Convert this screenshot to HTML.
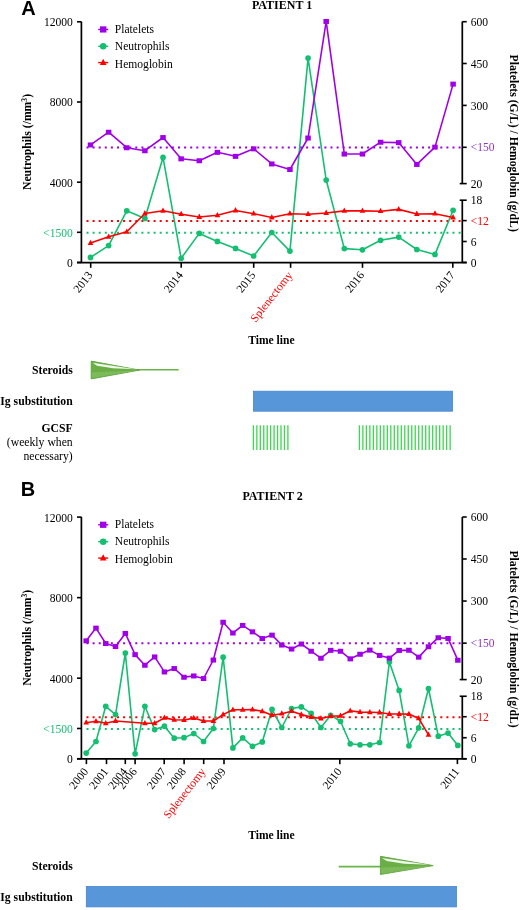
<!DOCTYPE html>
<html><head><meta charset="utf-8"><title>Patient timelines</title><style>html,body{margin:0;padding:0;background:#fff;}svg{display:block;}</style></head><body>
<svg width="520" height="910" viewBox="0 0 520 910" font-family="Liberation Serif, Times New Roman, serif">
<defs><linearGradient id="tg" x1="0" y1="0" x2="0" y2="1"><stop offset="0" stop-color="#5aa83a"/><stop offset="0.12" stop-color="#e8f6df"/><stop offset="0.28" stop-color="#79bc55"/><stop offset="1" stop-color="#5ea93c"/></linearGradient><linearGradient id="bg" x1="0" y1="0" x2="0" y2="1"><stop offset="0" stop-color="#5b9ad7"/><stop offset="1" stop-color="#5b9ad7"/></linearGradient></defs>
<rect width="520" height="910" fill="#fff"/>
<text x="21.3" y="15.3" font-family="Liberation Sans, Arial, sans-serif" font-weight="bold" font-size="20" fill="#000">A</text>
<text transform="translate(251.9 9.3) scale(1 1.12)" font-weight="bold" font-size="12">PATIENT 1</text>
<path d="M81.4 21.6V262.6" stroke="#000" stroke-width="1.7" fill="none"/>
<path d="M77 262.6H466.7" stroke="#000" stroke-width="1.7" fill="none"/>
<path d="M462.3 21.6V183.7M462.3 200.2V262.6" stroke="#000" stroke-width="1.7" fill="none"/>
<path d="M77 21.8H81.4" stroke="#000" stroke-width="1.6"/>
<text transform="translate(72.9 26.2) scale(1 1.12)" text-anchor="end" font-size="11.6" fill="#000">12000</text>
<path d="M77 102H81.4" stroke="#000" stroke-width="1.6"/>
<text transform="translate(72.9 106.4) scale(1 1.12)" text-anchor="end" font-size="11.6" fill="#000">8000</text>
<path d="M77 182.2H81.4" stroke="#000" stroke-width="1.6"/>
<text transform="translate(72.9 186.6) scale(1 1.12)" text-anchor="end" font-size="11.6" fill="#000">4000</text>
<path d="M77 232.3H81.4" stroke="#000" stroke-width="1.6"/>
<text transform="translate(72.9 236.7) scale(1 1.12)" text-anchor="end" font-size="11.6" fill="#14bf72">&lt;1500</text>
<path d="M77 262.4H81.4" stroke="#000" stroke-width="1.6"/>
<text transform="translate(72.9 266.8) scale(1 1.12)" text-anchor="end" font-size="11.6" fill="#000">0</text>
<path d="M462.3 21.7H466.7" stroke="#000" stroke-width="1.6"/>
<text transform="translate(470.7 25.8) scale(1 1.12)" font-size="11.6" fill="#000">600</text>
<path d="M462.3 63.5H466.7" stroke="#000" stroke-width="1.6"/>
<text transform="translate(470.7 67.6) scale(1 1.12)" font-size="11.6" fill="#000">450</text>
<path d="M462.3 105.4H466.7" stroke="#000" stroke-width="1.6"/>
<text transform="translate(470.7 109.5) scale(1 1.12)" font-size="11.6" fill="#000">300</text>
<path d="M462.3 147.3H466.7" stroke="#000" stroke-width="1.6"/>
<text transform="translate(470.7 151.4) scale(1 1.12)" font-size="11.6" fill="#8e38c6">&lt;150</text>
<path d="M459.7 183.6H466.7" stroke="#000" stroke-width="1.6"/>
<text transform="translate(470.7 187.7) scale(1 1.12)" font-size="11.6" fill="#000">20</text>
<path d="M459.7 200.2H466.7" stroke="#000" stroke-width="1.6"/>
<text transform="translate(470.7 204.3) scale(1 1.12)" font-size="11.6" fill="#000">18</text>
<path d="M462.3 220.6H466.7" stroke="#000" stroke-width="1.6"/>
<text transform="translate(470.7 224.7) scale(1 1.12)" font-size="11.6" fill="#ff0000">&lt;12</text>
<path d="M462.3 241.5H466.7" stroke="#000" stroke-width="1.6"/>
<text transform="translate(470.7 245.6) scale(1 1.12)" font-size="11.6" fill="#000">6</text>
<path d="M462.3 262.4H466.7" stroke="#000" stroke-width="1.6"/>
<text transform="translate(470.7 266.5) scale(1 1.12)" font-size="11.6" fill="#000">0</text>
<path d="M90.7 262.6V267.8" stroke="#000" stroke-width="1.6"/>
<text transform="translate(93.1 275.3) rotate(-52)" text-anchor="end" font-size="11.6" fill="#000">2013</text>
<path d="M181.2 262.6V267.8" stroke="#000" stroke-width="1.6"/>
<text transform="translate(183.6 275.3) rotate(-52)" text-anchor="end" font-size="11.6" fill="#000">2014</text>
<path d="M253.7 262.6V267.8" stroke="#000" stroke-width="1.6"/>
<text transform="translate(256.1 275.3) rotate(-52)" text-anchor="end" font-size="11.6" fill="#000">2015</text>
<path d="M290.6 262.6V267.8" stroke="#000" stroke-width="1.6"/>
<text transform="translate(293 275.3) rotate(-52)" text-anchor="end" font-size="11.6" fill="#ff0000">Splenectomy</text>
<path d="M362.5 262.6V267.8" stroke="#000" stroke-width="1.6"/>
<text transform="translate(364.9 275.3) rotate(-52)" text-anchor="end" font-size="11.6" fill="#000">2016</text>
<path d="M452.8 262.6V267.8" stroke="#000" stroke-width="1.6"/>
<text transform="translate(455.2 275.3) rotate(-52)" text-anchor="end" font-size="11.6" fill="#000">2017</text>
<path d="M86.5 147.4H461" stroke="#a000e8" stroke-width="2" stroke-dasharray="2 4.1" fill="none"/>
<path d="M86.5 221.1H461" stroke="#ff0000" stroke-width="2" stroke-dasharray="2 4.1" fill="none"/>
<path d="M86.5 232.7H461" stroke="#14bf72" stroke-width="2" stroke-dasharray="2 4.1" fill="none"/>
<path d="M90.5 257.4 L108.63 245.6 L126.76 210.8 L144.89 218.4 L163.02 157.4 L181.15 258.3 L199.28 233.4 L217.41 241.4 L235.54 248.4 L253.67 256 L271.8 232.5 L289.93 251.1 L308.06 58.1 L326.19 180 L344.32 248.6 L362.45 249.8 L380.58 240.3 L398.71 237.1 L416.84 249.5 L434.97 254.4 L453.1 210.3" stroke="#14bf72" stroke-width="1.6" fill="none" stroke-linejoin="round"/>
<circle cx="90.5" cy="257.4" r="2.85" fill="#14bf72"/>
<circle cx="108.63" cy="245.6" r="2.85" fill="#14bf72"/>
<circle cx="126.76" cy="210.8" r="2.85" fill="#14bf72"/>
<circle cx="144.89" cy="218.4" r="2.85" fill="#14bf72"/>
<circle cx="163.02" cy="157.4" r="2.85" fill="#14bf72"/>
<circle cx="181.15" cy="258.3" r="2.85" fill="#14bf72"/>
<circle cx="199.28" cy="233.4" r="2.85" fill="#14bf72"/>
<circle cx="217.41" cy="241.4" r="2.85" fill="#14bf72"/>
<circle cx="235.54" cy="248.4" r="2.85" fill="#14bf72"/>
<circle cx="253.67" cy="256" r="2.85" fill="#14bf72"/>
<circle cx="271.8" cy="232.5" r="2.85" fill="#14bf72"/>
<circle cx="289.93" cy="251.1" r="2.85" fill="#14bf72"/>
<circle cx="308.06" cy="58.1" r="2.85" fill="#14bf72"/>
<circle cx="326.19" cy="180" r="2.85" fill="#14bf72"/>
<circle cx="344.32" cy="248.6" r="2.85" fill="#14bf72"/>
<circle cx="362.45" cy="249.8" r="2.85" fill="#14bf72"/>
<circle cx="380.58" cy="240.3" r="2.85" fill="#14bf72"/>
<circle cx="398.71" cy="237.1" r="2.85" fill="#14bf72"/>
<circle cx="416.84" cy="249.5" r="2.85" fill="#14bf72"/>
<circle cx="434.97" cy="254.4" r="2.85" fill="#14bf72"/>
<circle cx="453.1" cy="210.3" r="2.85" fill="#14bf72"/>
<path d="M90.5 243.1 L108.63 236.8 L126.76 231.8 L144.89 213.5 L163.02 210.8 L181.15 214.2 L199.28 217 L217.41 215.3 L235.54 210.5 L253.67 213.7 L271.8 217.5 L289.93 213.7 L308.06 214.2 L326.19 213 L344.32 210.9 L362.45 210.9 L380.58 211.2 L398.71 209.4 L416.84 214 L434.97 213.7 L453.1 217.5" stroke="#ff0000" stroke-width="1.6" fill="none" stroke-linejoin="round"/>
<path d="M90.5 239.7L93.3 245L87.7 245Z" fill="#ff0000"/>
<path d="M108.63 233.4L111.43 238.7L105.83 238.7Z" fill="#ff0000"/>
<path d="M126.76 228.4L129.56 233.7L123.96 233.7Z" fill="#ff0000"/>
<path d="M144.89 210.1L147.69 215.4L142.09 215.4Z" fill="#ff0000"/>
<path d="M163.02 207.4L165.82 212.7L160.22 212.7Z" fill="#ff0000"/>
<path d="M181.15 210.8L183.95 216.1L178.35 216.1Z" fill="#ff0000"/>
<path d="M199.28 213.6L202.08 218.9L196.48 218.9Z" fill="#ff0000"/>
<path d="M217.41 211.9L220.21 217.2L214.61 217.2Z" fill="#ff0000"/>
<path d="M235.54 207.1L238.34 212.4L232.74 212.4Z" fill="#ff0000"/>
<path d="M253.67 210.3L256.47 215.6L250.87 215.6Z" fill="#ff0000"/>
<path d="M271.8 214.1L274.6 219.4L269 219.4Z" fill="#ff0000"/>
<path d="M289.93 210.3L292.73 215.6L287.13 215.6Z" fill="#ff0000"/>
<path d="M308.06 210.8L310.86 216.1L305.26 216.1Z" fill="#ff0000"/>
<path d="M326.19 209.6L328.99 214.9L323.39 214.9Z" fill="#ff0000"/>
<path d="M344.32 207.5L347.12 212.8L341.52 212.8Z" fill="#ff0000"/>
<path d="M362.45 207.5L365.25 212.8L359.65 212.8Z" fill="#ff0000"/>
<path d="M380.58 207.8L383.38 213.1L377.78 213.1Z" fill="#ff0000"/>
<path d="M398.71 206L401.51 211.3L395.91 211.3Z" fill="#ff0000"/>
<path d="M416.84 210.6L419.64 215.9L414.04 215.9Z" fill="#ff0000"/>
<path d="M434.97 210.3L437.77 215.6L432.17 215.6Z" fill="#ff0000"/>
<path d="M453.1 214.1L455.9 219.4L450.3 219.4Z" fill="#ff0000"/>
<path d="M90.5 144.9 L108.63 132.2 L126.76 147.7 L144.89 150.7 L163.02 137.5 L181.15 158.8 L199.28 160.7 L217.41 152.3 L235.54 156.3 L253.67 148.8 L271.8 163.9 L289.93 169.5 L308.06 138 L326.19 21.4 L344.32 154 L362.45 154 L380.58 142.2 L398.71 142.6 L416.84 164.4 L434.97 147.1 L453.1 84.1" stroke="#a000e8" stroke-width="1.6" fill="none" stroke-linejoin="round"/>
<rect x="87.75" y="142.45" width="5.5" height="5.0" fill="#a000e8"/>
<rect x="105.88" y="129.75" width="5.5" height="5.0" fill="#a000e8"/>
<rect x="124.01" y="145.25" width="5.5" height="5.0" fill="#a000e8"/>
<rect x="142.14" y="148.25" width="5.5" height="5.0" fill="#a000e8"/>
<rect x="160.27" y="135.05" width="5.5" height="5.0" fill="#a000e8"/>
<rect x="178.4" y="156.35" width="5.5" height="5.0" fill="#a000e8"/>
<rect x="196.53" y="158.25" width="5.5" height="5.0" fill="#a000e8"/>
<rect x="214.66" y="149.85" width="5.5" height="5.0" fill="#a000e8"/>
<rect x="232.79" y="153.85" width="5.5" height="5.0" fill="#a000e8"/>
<rect x="250.92" y="146.35" width="5.5" height="5.0" fill="#a000e8"/>
<rect x="269.05" y="161.45" width="5.5" height="5.0" fill="#a000e8"/>
<rect x="287.18" y="167.05" width="5.5" height="5.0" fill="#a000e8"/>
<rect x="305.31" y="135.55" width="5.5" height="5.0" fill="#a000e8"/>
<rect x="323.44" y="18.95" width="5.5" height="5.0" fill="#a000e8"/>
<rect x="341.57" y="151.55" width="5.5" height="5.0" fill="#a000e8"/>
<rect x="359.7" y="151.55" width="5.5" height="5.0" fill="#a000e8"/>
<rect x="377.83" y="139.75" width="5.5" height="5.0" fill="#a000e8"/>
<rect x="395.96" y="140.15" width="5.5" height="5.0" fill="#a000e8"/>
<rect x="414.09" y="161.95" width="5.5" height="5.0" fill="#a000e8"/>
<rect x="432.22" y="144.65" width="5.5" height="5.0" fill="#a000e8"/>
<rect x="450.35" y="81.65" width="5.5" height="5.0" fill="#a000e8"/>
<path d="M98.2 29.45H108.2" stroke="#a000e8" stroke-width="1.4"/>
<rect x="100" y="26.35" width="6.4" height="6.2" fill="#a000e8"/>
<text transform="translate(114.8 32.6) scale(1 1.12)" font-size="11.6">Platelets</text>
<path d="M98.2 46.3H108.2" stroke="#14bf72" stroke-width="1.4"/>
<circle cx="103.2" cy="46.3" r="3.25" fill="#14bf72"/>
<text transform="translate(114.8 49.8) scale(1 1.12)" font-size="11.6">Neutrophils</text>
<path d="M98.2 62.6H108.2" stroke="#ff0000" stroke-width="1.4"/>
<path d="M103.2 58.7L106.5 65L99.9 65Z" fill="#ff0000"/>
<text transform="translate(114.8 67.6) scale(1 1.12)" font-size="11.6">Hemoglobin</text>
<text transform="translate(31.3 142) rotate(-90) scale(1 1.12)" text-anchor="middle" font-weight="bold" font-size="11.7">Neutrophils (/mm<tspan font-size="7.6" dy="-3.6">3</tspan><tspan dy="3.6">)</tspan></text>
<text transform="translate(509.8 143.2) rotate(90) scale(1 1.12)" text-anchor="middle" font-weight="bold" font-size="11.7">Platelets (G/L) / Hemoglobin (g/dL)</text>
<text transform="translate(248.2 344) scale(1 1.12)" font-weight="bold" font-size="11.6">Time line</text>
<text x="20.7" y="496.2" font-family="Liberation Sans, Arial, sans-serif" font-weight="bold" font-size="20" fill="#000">B</text>
<text transform="translate(242.4 500.4) scale(1 1.12)" font-weight="bold" font-size="12">PATIENT 2</text>
<path d="M81.4 516.9V758.91" stroke="#000" stroke-width="1.7" fill="none"/>
<path d="M77 758.91H466.7" stroke="#000" stroke-width="1.7" fill="none"/>
<path d="M462.3 516.9V679.68M462.3 696.25V758.91" stroke="#000" stroke-width="1.7" fill="none"/>
<path d="M77 517.1H81.4" stroke="#000" stroke-width="1.6"/>
<text transform="translate(72.9 521.5) scale(1 1.12)" text-anchor="end" font-size="11.6" fill="#000">12000</text>
<path d="M77 597.64H81.4" stroke="#000" stroke-width="1.6"/>
<text transform="translate(72.9 602.04) scale(1 1.12)" text-anchor="end" font-size="11.6" fill="#000">8000</text>
<path d="M77 678.17H81.4" stroke="#000" stroke-width="1.6"/>
<text transform="translate(72.9 682.57) scale(1 1.12)" text-anchor="end" font-size="11.6" fill="#000">4000</text>
<path d="M77 728.48H81.4" stroke="#000" stroke-width="1.6"/>
<text transform="translate(72.9 732.88) scale(1 1.12)" text-anchor="end" font-size="11.6" fill="#14bf72">&lt;1500</text>
<path d="M77 758.71H81.4" stroke="#000" stroke-width="1.6"/>
<text transform="translate(72.9 763.11) scale(1 1.12)" text-anchor="end" font-size="11.6" fill="#000">0</text>
<path d="M462.3 517H466.7" stroke="#000" stroke-width="1.6"/>
<text transform="translate(470.7 521.1) scale(1 1.12)" font-size="11.6" fill="#000">600</text>
<path d="M462.3 558.98H466.7" stroke="#000" stroke-width="1.6"/>
<text transform="translate(470.7 563.08) scale(1 1.12)" font-size="11.6" fill="#000">450</text>
<path d="M462.3 601.05H466.7" stroke="#000" stroke-width="1.6"/>
<text transform="translate(470.7 605.15) scale(1 1.12)" font-size="11.6" fill="#000">300</text>
<path d="M462.3 643.13H466.7" stroke="#000" stroke-width="1.6"/>
<text transform="translate(470.7 647.23) scale(1 1.12)" font-size="11.6" fill="#8e38c6">&lt;150</text>
<path d="M459.7 679.58H466.7" stroke="#000" stroke-width="1.6"/>
<text transform="translate(470.7 683.68) scale(1 1.12)" font-size="11.6" fill="#000">20</text>
<path d="M459.7 696.25H466.7" stroke="#000" stroke-width="1.6"/>
<text transform="translate(470.7 700.35) scale(1 1.12)" font-size="11.6" fill="#000">18</text>
<path d="M462.3 716.73H466.7" stroke="#000" stroke-width="1.6"/>
<text transform="translate(470.7 720.83) scale(1 1.12)" font-size="11.6" fill="#ff0000">&lt;12</text>
<path d="M462.3 737.72H466.7" stroke="#000" stroke-width="1.6"/>
<text transform="translate(470.7 741.82) scale(1 1.12)" font-size="11.6" fill="#000">6</text>
<path d="M462.3 758.71H466.7" stroke="#000" stroke-width="1.6"/>
<text transform="translate(470.7 762.81) scale(1 1.12)" font-size="11.6" fill="#000">0</text>
<path d="M86.4 758.91V764.13" stroke="#000" stroke-width="1.6"/>
<text transform="translate(88.8 771.66) rotate(-52)" text-anchor="end" font-size="11.6" fill="#000">2000</text>
<path d="M106.5 758.91V764.13" stroke="#000" stroke-width="1.6"/>
<text transform="translate(108.9 771.66) rotate(-52)" text-anchor="end" font-size="11.6" fill="#000">2001</text>
<path d="M125.3 758.91V764.13" stroke="#000" stroke-width="1.6"/>
<text transform="translate(127.7 771.66) rotate(-52)" text-anchor="end" font-size="11.6" fill="#000">2004</text>
<path d="M135.1 758.91V764.13" stroke="#000" stroke-width="1.6"/>
<text transform="translate(137.5 771.66) rotate(-52)" text-anchor="end" font-size="11.6" fill="#000">2006</text>
<path d="M164.2 758.91V764.13" stroke="#000" stroke-width="1.6"/>
<text transform="translate(166.6 771.66) rotate(-52)" text-anchor="end" font-size="11.6" fill="#000">2007</text>
<path d="M184.1 758.91V764.13" stroke="#000" stroke-width="1.6"/>
<text transform="translate(186.5 771.66) rotate(-52)" text-anchor="end" font-size="11.6" fill="#000">2008</text>
<path d="M203.7 758.91V764.13" stroke="#000" stroke-width="1.6"/>
<text transform="translate(206.1 771.66) rotate(-52)" text-anchor="end" font-size="11.6" fill="#ff0000">Splenectomy</text>
<path d="M224 758.91V764.13" stroke="#000" stroke-width="1.6"/>
<text transform="translate(226.4 771.66) rotate(-52)" text-anchor="end" font-size="11.6" fill="#000">2009</text>
<path d="M339.8 758.91V764.13" stroke="#000" stroke-width="1.6"/>
<text transform="translate(342.2 771.66) rotate(-52)" text-anchor="end" font-size="11.6" fill="#000">2010</text>
<path d="M457.4 758.91V764.13" stroke="#000" stroke-width="1.6"/>
<text transform="translate(459.8 771.66) rotate(-52)" text-anchor="end" font-size="11.6" fill="#000">2011</text>
<path d="M86.5 643.23H461" stroke="#a000e8" stroke-width="2" stroke-dasharray="2 4.1" fill="none"/>
<path d="M86.5 717.24H461" stroke="#ff0000" stroke-width="2" stroke-dasharray="2 4.1" fill="none"/>
<path d="M86.5 728.89H461" stroke="#14bf72" stroke-width="2" stroke-dasharray="2 4.1" fill="none"/>
<path d="M86.2 753.1 L95.98 741.5 L105.76 706.3 L115.54 714.6 L125.32 653 L135.1 753.8 L144.88 706.3 L154.66 729.6 L164.44 726.2 L174.22 738.2 L184 737.7 L193.78 733.5 L203.56 741.5 L213.34 728.5 L223.12 657.2 L232.9 747.9 L242.68 737.9 L252.46 746.3 L262.24 741.9 L272.02 709.4 L281.8 727.5 L291.58 708.5 L301.36 706.9 L311.14 713.3 L320.92 727.5 L330.7 715.3 L340.48 721.3 L350.26 743.8 L360.04 744.8 L369.82 744.8 L379.6 742.5 L389.38 662 L399.16 690.4 L408.94 745.8 L418.72 727.8 L428.5 688.5 L438.28 736.2 L448.06 733.1 L457.84 745.4" stroke="#14bf72" stroke-width="1.6" fill="none" stroke-linejoin="round"/>
<circle cx="86.2" cy="753.1" r="2.85" fill="#14bf72"/>
<circle cx="95.98" cy="741.5" r="2.85" fill="#14bf72"/>
<circle cx="105.76" cy="706.3" r="2.85" fill="#14bf72"/>
<circle cx="115.54" cy="714.6" r="2.85" fill="#14bf72"/>
<circle cx="125.32" cy="653" r="2.85" fill="#14bf72"/>
<circle cx="135.1" cy="753.8" r="2.85" fill="#14bf72"/>
<circle cx="144.88" cy="706.3" r="2.85" fill="#14bf72"/>
<circle cx="154.66" cy="729.6" r="2.85" fill="#14bf72"/>
<circle cx="164.44" cy="726.2" r="2.85" fill="#14bf72"/>
<circle cx="174.22" cy="738.2" r="2.85" fill="#14bf72"/>
<circle cx="184" cy="737.7" r="2.85" fill="#14bf72"/>
<circle cx="193.78" cy="733.5" r="2.85" fill="#14bf72"/>
<circle cx="203.56" cy="741.5" r="2.85" fill="#14bf72"/>
<circle cx="213.34" cy="728.5" r="2.85" fill="#14bf72"/>
<circle cx="223.12" cy="657.2" r="2.85" fill="#14bf72"/>
<circle cx="232.9" cy="747.9" r="2.85" fill="#14bf72"/>
<circle cx="242.68" cy="737.9" r="2.85" fill="#14bf72"/>
<circle cx="252.46" cy="746.3" r="2.85" fill="#14bf72"/>
<circle cx="262.24" cy="741.9" r="2.85" fill="#14bf72"/>
<circle cx="272.02" cy="709.4" r="2.85" fill="#14bf72"/>
<circle cx="281.8" cy="727.5" r="2.85" fill="#14bf72"/>
<circle cx="291.58" cy="708.5" r="2.85" fill="#14bf72"/>
<circle cx="301.36" cy="706.9" r="2.85" fill="#14bf72"/>
<circle cx="311.14" cy="713.3" r="2.85" fill="#14bf72"/>
<circle cx="320.92" cy="727.5" r="2.85" fill="#14bf72"/>
<circle cx="330.7" cy="715.3" r="2.85" fill="#14bf72"/>
<circle cx="340.48" cy="721.3" r="2.85" fill="#14bf72"/>
<circle cx="350.26" cy="743.8" r="2.85" fill="#14bf72"/>
<circle cx="360.04" cy="744.8" r="2.85" fill="#14bf72"/>
<circle cx="369.82" cy="744.8" r="2.85" fill="#14bf72"/>
<circle cx="379.6" cy="742.5" r="2.85" fill="#14bf72"/>
<circle cx="389.38" cy="662" r="2.85" fill="#14bf72"/>
<circle cx="399.16" cy="690.4" r="2.85" fill="#14bf72"/>
<circle cx="408.94" cy="745.8" r="2.85" fill="#14bf72"/>
<circle cx="418.72" cy="727.8" r="2.85" fill="#14bf72"/>
<circle cx="428.5" cy="688.5" r="2.85" fill="#14bf72"/>
<circle cx="438.28" cy="736.2" r="2.85" fill="#14bf72"/>
<circle cx="448.06" cy="733.1" r="2.85" fill="#14bf72"/>
<circle cx="457.84" cy="745.4" r="2.85" fill="#14bf72"/>
<path d="M86.2 722.7 L95.98 721.3 L105.76 723.3 L115.54 721 L144.88 723.3 L154.66 723.3 L164.44 717.9 L174.22 719.8 L184 720 L193.78 718.1 L203.56 721 L213.34 721 L223.12 714.6 L232.9 709.8 L242.68 709.8 L252.46 709.6 L262.24 711.3 L272.02 715.2 L281.8 713.7 L291.58 711.2 L301.36 714.6 L311.14 717.1 L320.92 718.5 L330.7 716.2 L340.48 715.8 L350.26 710.8 L360.04 712.1 L369.82 712.3 L379.6 712.5 L389.38 714 L399.16 714 L408.94 714.1 L418.72 718.4 L428.5 734.8" stroke="#ff0000" stroke-width="1.6" fill="none" stroke-linejoin="round"/>
<path d="M86.2 719.3L89 724.6L83.4 724.6Z" fill="#ff0000"/>
<path d="M95.98 717.9L98.78 723.2L93.18 723.2Z" fill="#ff0000"/>
<path d="M105.76 719.9L108.56 725.2L102.96 725.2Z" fill="#ff0000"/>
<path d="M115.54 717.6L118.34 722.9L112.74 722.9Z" fill="#ff0000"/>
<path d="M144.88 719.9L147.68 725.2L142.08 725.2Z" fill="#ff0000"/>
<path d="M154.66 719.9L157.46 725.2L151.86 725.2Z" fill="#ff0000"/>
<path d="M164.44 714.5L167.24 719.8L161.64 719.8Z" fill="#ff0000"/>
<path d="M174.22 716.4L177.02 721.7L171.42 721.7Z" fill="#ff0000"/>
<path d="M184 716.6L186.8 721.9L181.2 721.9Z" fill="#ff0000"/>
<path d="M193.78 714.7L196.58 720L190.98 720Z" fill="#ff0000"/>
<path d="M203.56 717.6L206.36 722.9L200.76 722.9Z" fill="#ff0000"/>
<path d="M213.34 717.6L216.14 722.9L210.54 722.9Z" fill="#ff0000"/>
<path d="M223.12 711.2L225.92 716.5L220.32 716.5Z" fill="#ff0000"/>
<path d="M232.9 706.4L235.7 711.7L230.1 711.7Z" fill="#ff0000"/>
<path d="M242.68 706.4L245.48 711.7L239.88 711.7Z" fill="#ff0000"/>
<path d="M252.46 706.2L255.26 711.5L249.66 711.5Z" fill="#ff0000"/>
<path d="M262.24 707.9L265.04 713.2L259.44 713.2Z" fill="#ff0000"/>
<path d="M272.02 711.8L274.82 717.1L269.22 717.1Z" fill="#ff0000"/>
<path d="M281.8 710.3L284.6 715.6L279 715.6Z" fill="#ff0000"/>
<path d="M291.58 707.8L294.38 713.1L288.78 713.1Z" fill="#ff0000"/>
<path d="M301.36 711.2L304.16 716.5L298.56 716.5Z" fill="#ff0000"/>
<path d="M311.14 713.7L313.94 719L308.34 719Z" fill="#ff0000"/>
<path d="M320.92 715.1L323.72 720.4L318.12 720.4Z" fill="#ff0000"/>
<path d="M330.7 712.8L333.5 718.1L327.9 718.1Z" fill="#ff0000"/>
<path d="M340.48 712.4L343.28 717.7L337.68 717.7Z" fill="#ff0000"/>
<path d="M350.26 707.4L353.06 712.7L347.46 712.7Z" fill="#ff0000"/>
<path d="M360.04 708.7L362.84 714L357.24 714Z" fill="#ff0000"/>
<path d="M369.82 708.9L372.62 714.2L367.02 714.2Z" fill="#ff0000"/>
<path d="M379.6 709.1L382.4 714.4L376.8 714.4Z" fill="#ff0000"/>
<path d="M389.38 710.6L392.18 715.9L386.58 715.9Z" fill="#ff0000"/>
<path d="M399.16 710.6L401.96 715.9L396.36 715.9Z" fill="#ff0000"/>
<path d="M408.94 710.7L411.74 716L406.14 716Z" fill="#ff0000"/>
<path d="M418.72 715L421.52 720.3L415.92 720.3Z" fill="#ff0000"/>
<path d="M428.5 731.4L431.3 736.7L425.7 736.7Z" fill="#ff0000"/>
<path d="M86.2 640.8 L95.98 628.1 L105.76 643.5 L115.54 646.5 L125.32 633.4 L135.1 654.6 L144.88 665.2 L154.66 656.9 L164.44 671.9 L174.22 668.5 L184 677.2 L193.78 675.9 L203.56 678.5 L213.34 660 L223.12 622.2 L232.9 633 L242.68 625.4 L252.46 631.8 L262.24 638.5 L272.02 635.1 L281.8 645 L291.58 649 L301.36 644 L311.14 651.2 L320.92 658.2 L330.7 650.3 L340.48 651.2 L350.26 658.8 L360.04 654.2 L369.82 650.1 L379.6 655.4 L389.38 658.1 L399.16 650.4 L408.94 650.2 L418.72 657.1 L428.5 646.7 L438.28 637.7 L448.06 638.4 L457.84 660.2" stroke="#a000e8" stroke-width="1.6" fill="none" stroke-linejoin="round"/>
<rect x="83.45" y="638.35" width="5.5" height="5.0" fill="#a000e8"/>
<rect x="93.23" y="625.65" width="5.5" height="5.0" fill="#a000e8"/>
<rect x="103.01" y="641.05" width="5.5" height="5.0" fill="#a000e8"/>
<rect x="112.79" y="644.05" width="5.5" height="5.0" fill="#a000e8"/>
<rect x="122.57" y="630.95" width="5.5" height="5.0" fill="#a000e8"/>
<rect x="132.35" y="652.15" width="5.5" height="5.0" fill="#a000e8"/>
<rect x="142.13" y="662.75" width="5.5" height="5.0" fill="#a000e8"/>
<rect x="151.91" y="654.45" width="5.5" height="5.0" fill="#a000e8"/>
<rect x="161.69" y="669.45" width="5.5" height="5.0" fill="#a000e8"/>
<rect x="171.47" y="666.05" width="5.5" height="5.0" fill="#a000e8"/>
<rect x="181.25" y="674.75" width="5.5" height="5.0" fill="#a000e8"/>
<rect x="191.03" y="673.45" width="5.5" height="5.0" fill="#a000e8"/>
<rect x="200.81" y="676.05" width="5.5" height="5.0" fill="#a000e8"/>
<rect x="210.59" y="657.55" width="5.5" height="5.0" fill="#a000e8"/>
<rect x="220.37" y="619.75" width="5.5" height="5.0" fill="#a000e8"/>
<rect x="230.15" y="630.55" width="5.5" height="5.0" fill="#a000e8"/>
<rect x="239.93" y="622.95" width="5.5" height="5.0" fill="#a000e8"/>
<rect x="249.71" y="629.35" width="5.5" height="5.0" fill="#a000e8"/>
<rect x="259.49" y="636.05" width="5.5" height="5.0" fill="#a000e8"/>
<rect x="269.27" y="632.65" width="5.5" height="5.0" fill="#a000e8"/>
<rect x="279.05" y="642.55" width="5.5" height="5.0" fill="#a000e8"/>
<rect x="288.83" y="646.55" width="5.5" height="5.0" fill="#a000e8"/>
<rect x="298.61" y="641.55" width="5.5" height="5.0" fill="#a000e8"/>
<rect x="308.39" y="648.75" width="5.5" height="5.0" fill="#a000e8"/>
<rect x="318.17" y="655.75" width="5.5" height="5.0" fill="#a000e8"/>
<rect x="327.95" y="647.85" width="5.5" height="5.0" fill="#a000e8"/>
<rect x="337.73" y="648.75" width="5.5" height="5.0" fill="#a000e8"/>
<rect x="347.51" y="656.35" width="5.5" height="5.0" fill="#a000e8"/>
<rect x="357.29" y="651.75" width="5.5" height="5.0" fill="#a000e8"/>
<rect x="367.07" y="647.65" width="5.5" height="5.0" fill="#a000e8"/>
<rect x="376.85" y="652.95" width="5.5" height="5.0" fill="#a000e8"/>
<rect x="386.63" y="655.65" width="5.5" height="5.0" fill="#a000e8"/>
<rect x="396.41" y="647.95" width="5.5" height="5.0" fill="#a000e8"/>
<rect x="406.19" y="647.75" width="5.5" height="5.0" fill="#a000e8"/>
<rect x="415.97" y="654.65" width="5.5" height="5.0" fill="#a000e8"/>
<rect x="425.75" y="644.25" width="5.5" height="5.0" fill="#a000e8"/>
<rect x="435.53" y="635.25" width="5.5" height="5.0" fill="#a000e8"/>
<rect x="445.31" y="635.95" width="5.5" height="5.0" fill="#a000e8"/>
<rect x="455.09" y="657.75" width="5.5" height="5.0" fill="#a000e8"/>
<path d="M98.2 524.78H108.2" stroke="#a000e8" stroke-width="1.4"/>
<rect x="100" y="521.68" width="6.4" height="6.2" fill="#a000e8"/>
<text transform="translate(114.8 527.95) scale(1 1.12)" font-size="11.6">Platelets</text>
<path d="M98.2 541.7H108.2" stroke="#14bf72" stroke-width="1.4"/>
<circle cx="103.2" cy="541.7" r="3.25" fill="#14bf72"/>
<text transform="translate(114.8 545.22) scale(1 1.12)" font-size="11.6">Neutrophils</text>
<path d="M98.2 558.07H108.2" stroke="#ff0000" stroke-width="1.4"/>
<path d="M103.2 554.17L106.5 560.47L99.9 560.47Z" fill="#ff0000"/>
<text transform="translate(114.8 563.09) scale(1 1.12)" font-size="11.6">Hemoglobin</text>
<text transform="translate(31.3 637.8) rotate(-90) scale(1 1.12)" text-anchor="middle" font-weight="bold" font-size="11.7">Neutrophils (/mm<tspan font-size="7.6" dy="-3.6">3</tspan><tspan dy="3.6">)</tspan></text>
<text transform="translate(509.8 639.01) rotate(90) scale(1 1.12)" text-anchor="middle" font-weight="bold" font-size="11.7">Platelets (G/L) / Hemoglobin (g/dL)</text>
<text transform="translate(248.2 838.9) scale(1 1.12)" font-weight="bold" font-size="11.6">Time line</text>
<text transform="translate(72.7 373.7) scale(1 1.12)" text-anchor="end" font-weight="bold" font-size="11.7">Steroids</text>
<text transform="translate(72.7 404.9) scale(1 1.12)" text-anchor="end" font-weight="bold" font-size="11.7">Ig substitution</text>
<text transform="translate(72.7 432) scale(1 1.12)" text-anchor="end" font-weight="bold" font-size="11.7">GCSF</text>
<text transform="translate(72.7 446) scale(1 1.12)" text-anchor="end" font-size="11.7">(weekly when</text>
<text transform="translate(72.7 459.8) scale(1 1.12)" text-anchor="end" font-size="11.7">necessary)</text>
<path d="M137 369.8H178.7" stroke="#6ab547" stroke-width="1.6"/>
<path d="M91.2 361.1L139.5 370.1L91.2 378.9Z" fill="#6aae45" stroke="#5fa63c" stroke-width="0.9" stroke-linejoin="round"/>
<path d="M92 372.14L137.5 370.4L92 378.1Z" fill="#8cc56c" opacity="0.55"/>
<path d="M92.7 362.7L135.5 369.2L112.94 368.35L97 365.78Z" fill="#f6fcf2" opacity="0.95"/>
<rect x="253.4" y="391.2" width="199.2" height="20" fill="#5797d9" stroke="#4585cf" stroke-width="0.8"/>
<path d="M253.4 425.3V450M256.85 425.3V450M260.3 425.3V450M263.75 425.3V450M267.2 425.3V450M270.65 425.3V450M274.1 425.3V450M277.55 425.3V450M281 425.3V450M284.45 425.3V450M287.9 425.3V450M359.4 425.3V450M362.89 425.3V450M366.38 425.3V450M369.87 425.3V450M373.36 425.3V450M376.85 425.3V450M380.34 425.3V450M383.83 425.3V450M387.32 425.3V450M390.81 425.3V450M394.3 425.3V450M397.79 425.3V450M401.28 425.3V450M404.77 425.3V450M408.26 425.3V450M411.75 425.3V450M415.24 425.3V450M418.73 425.3V450M422.22 425.3V450M425.71 425.3V450M429.2 425.3V450M432.69 425.3V450M436.18 425.3V450M439.67 425.3V450M443.16 425.3V450M446.65 425.3V450M450.14 425.3V450" stroke="#3cd84f" stroke-width="1.3"/>
<text transform="translate(72.7 869.5) scale(1 1.12)" text-anchor="end" font-weight="bold" font-size="11.7">Steroids</text>
<text transform="translate(72.7 900.6) scale(1 1.12)" text-anchor="end" font-weight="bold" font-size="11.7">Ig substitution</text>
<path d="M338.7 866.6H382" stroke="#6ab547" stroke-width="1.6"/>
<path d="M380.4 856.3L433.2 865.6L380.4 874.5Z" fill="#6aae45" stroke="#5fa63c" stroke-width="0.9" stroke-linejoin="round"/>
<path d="M381.2 867.58L431.2 865.9L381.2 873.7Z" fill="#8cc56c" opacity="0.55"/>
<path d="M381.9 857.9L429.2 864.7L404.16 863.69L386.74 861.02Z" fill="#f6fcf2" opacity="0.95"/>
<rect x="86.3" y="886.5" width="370.2" height="20.4" fill="#5797d9" stroke="#4585cf" stroke-width="0.8"/>
</svg>
</body></html>
